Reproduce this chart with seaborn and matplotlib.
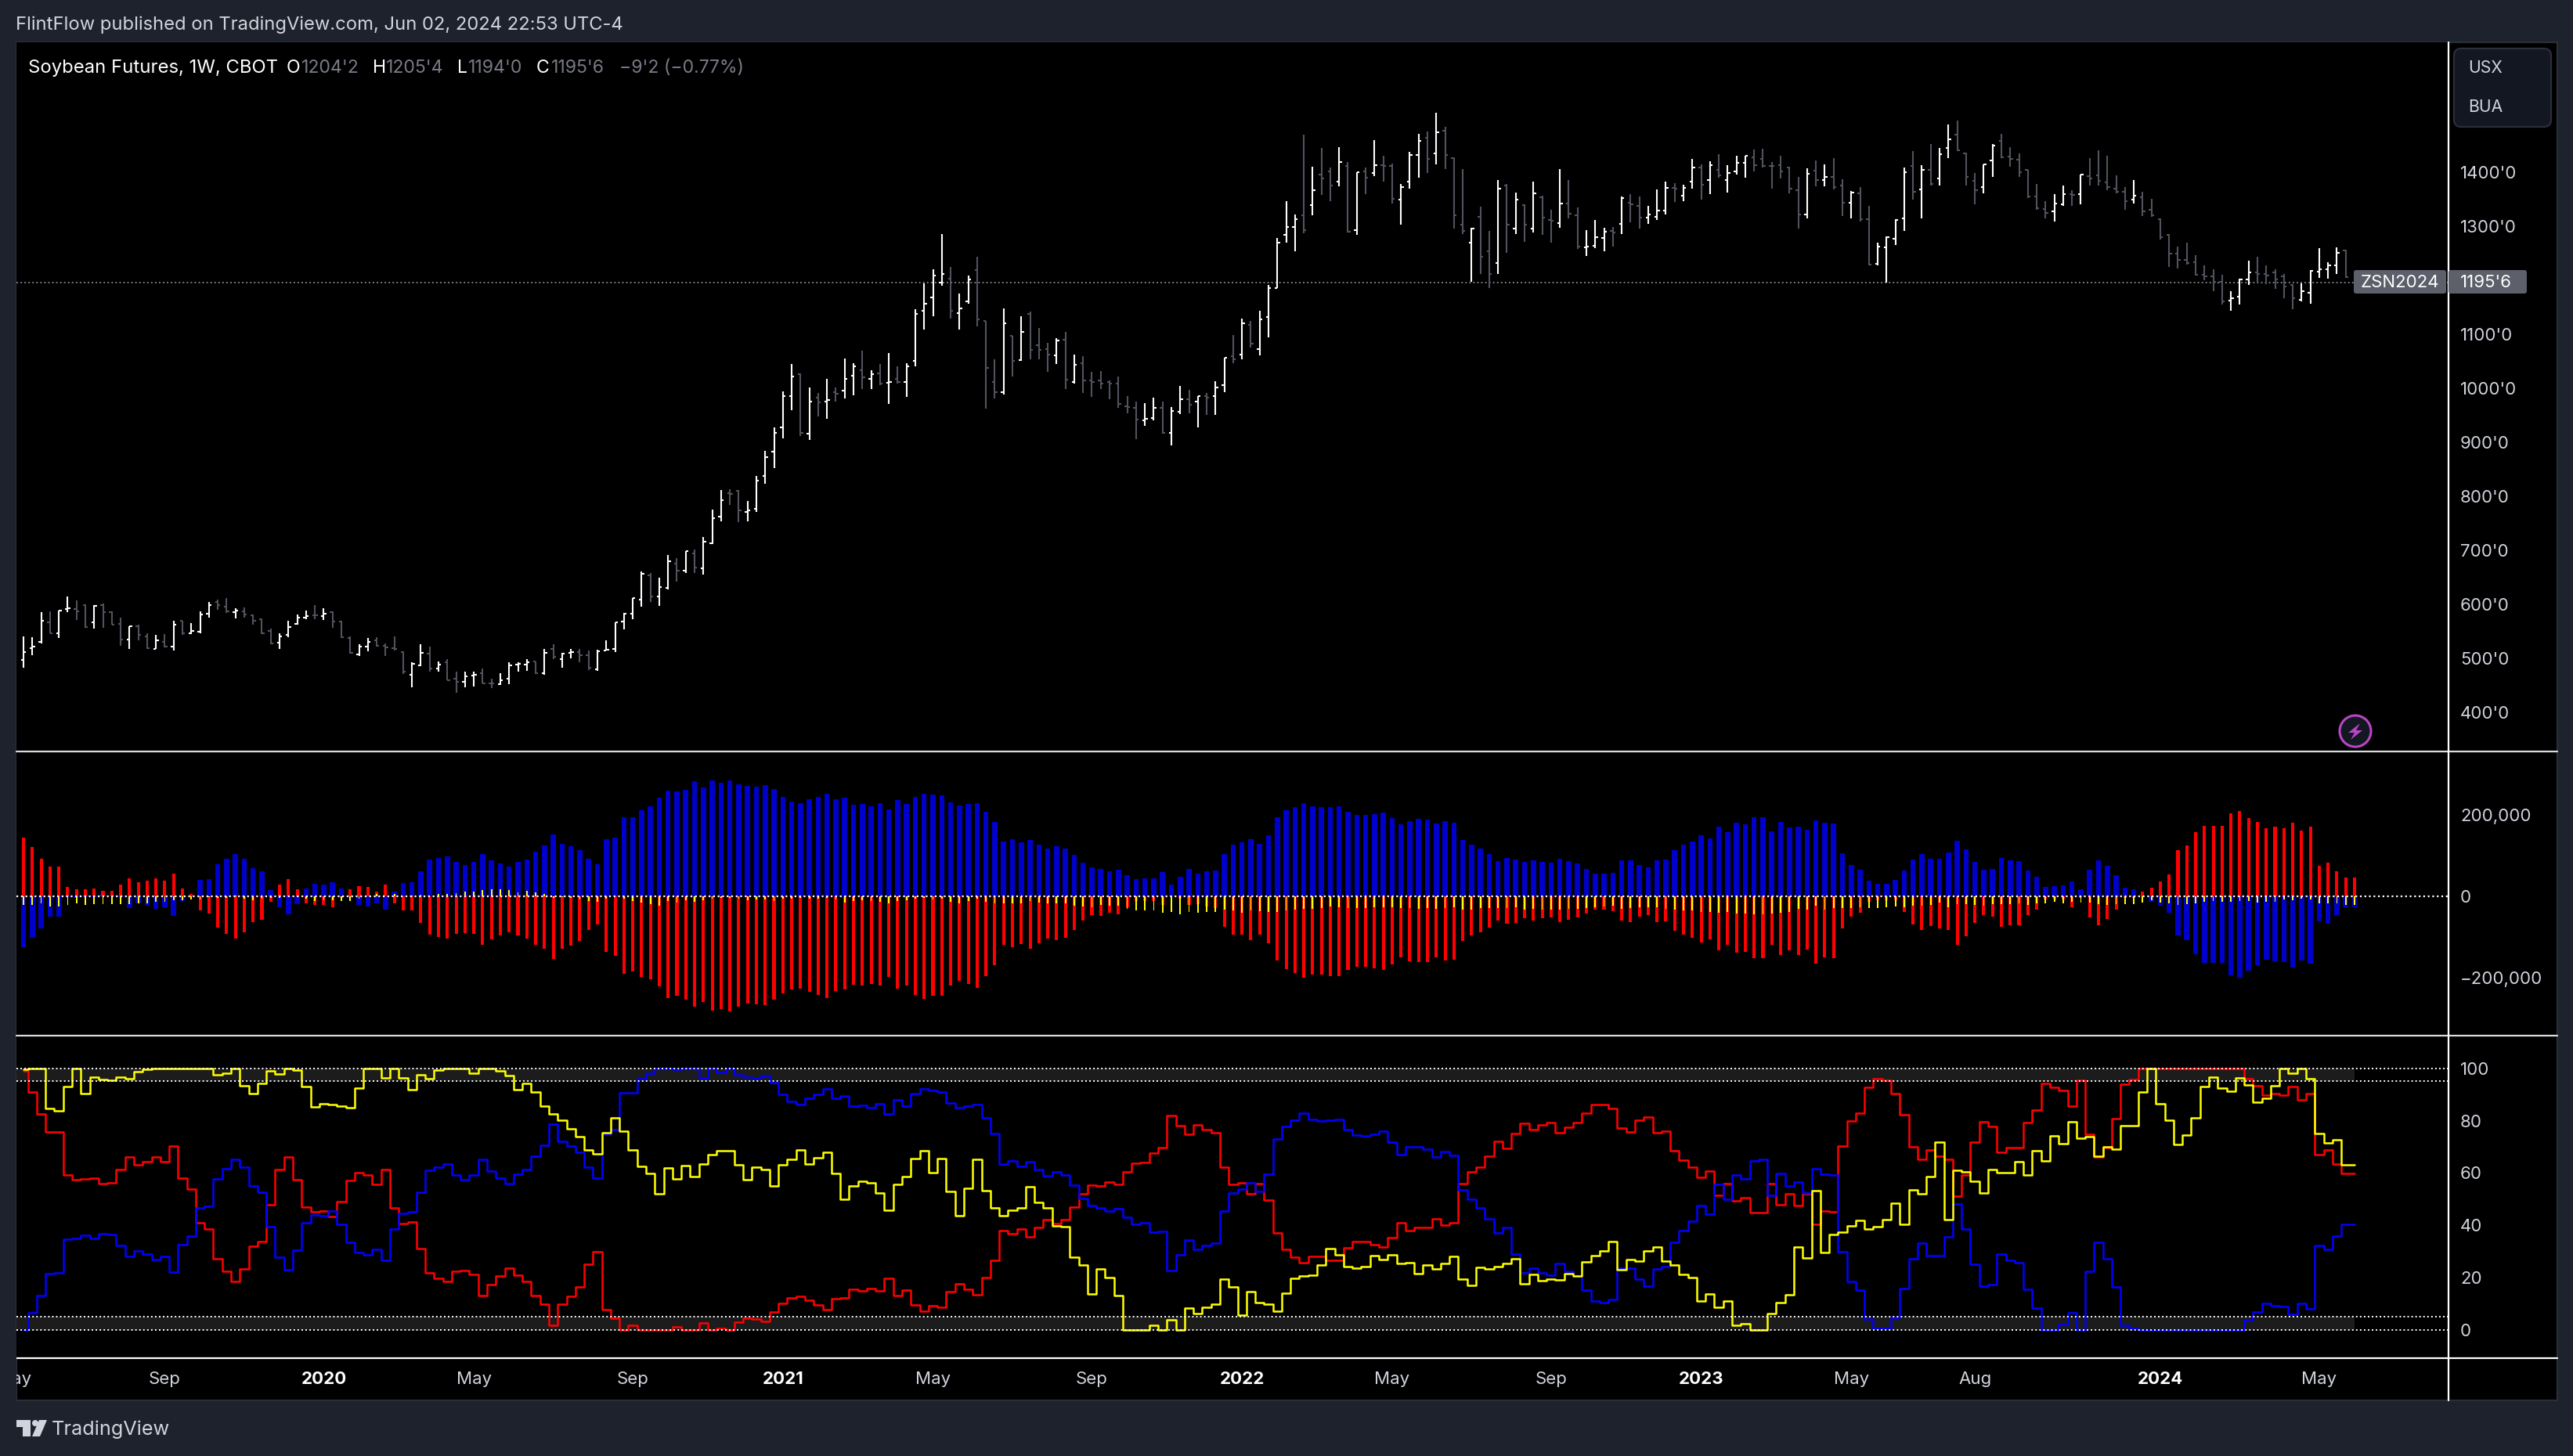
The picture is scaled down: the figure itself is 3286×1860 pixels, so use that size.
import numpy as np
import matplotlib
matplotlib.use('Agg')
import matplotlib.pyplot as plt
from matplotlib.patches import Rectangle, FancyBboxPatch, Circle, Polygon
from matplotlib.transforms import Affine2D
import seaborn as sns

# weekly bars, soybean futures
price_open = [
    497,519,530,567,546,592,592,599,567,598,585,564,535,560,540,518,531,522,569,547,549,582,604,596,586,587,579,572,550,529,
    543,564,575,579,578,585,568,538,507,521,533,523,519,511,470,487,509,481,492,462,457,468,472,454,452,463,488,489,494,472,
    517,498,510,511,506,480,515,517,568,583,609,654,614,631,676,662,694,667,713,762,806,810,771,777,837,883,927,985,1026,916,
    982,975,993,996,1023,1033,1017,1027,1010,1018,1012,1050,1144,1168,1196,1203,1139,1161,1219,1124,1012,993,1097,1052,1137,1079,1072,1061,1090,1012,
    1046,1015,1014,1011,1008,967,964,941,945,964,918,957,979,976,985,985,1006,1059,1063,1117,1072,1132,1186,1284,1299,1321,1339,1396,1401,1383,
    1412,1293,1401,1399,1413,1411,1349,1383,1432,1464,1435,1477,1426,1303,1270,1318,1253,1232,1376,1295,1339,1295,1354,1312,1306,1342,1321,1261,1264,1278,
    1292,1304,1344,1338,1316,1317,1329,1371,1357,1382,1409,1385,1405,1386,1402,1418,1428,1424,1412,1413,1409,1366,1322,1403,1385,1391,1375,1344,1361,1313,
    1231,1261,1277,1315,1412,1368,1404,1389,1445,1469,1435,1384,1373,1422,1458,1429,1423,1404,1355,1332,1328,1340,1360,1360,1393,1394,1381,1370,1364,1349,
    1354,1330,1313,1284,1249,1238,1233,1210,1207,1197,1163,1170,1202,1215,1212,1214,1207,1191,1164,1177,1216,1221,1228,1255]
price_high = [
    540,539,586,587,589,614,607,600,598,601,587,575,560,562,547,544,545,569,570,565,587,604,609,612,593,594,581,574,555,546,
    569,581,588,598,593,587,569,540,526,538,539,527,540,513,492,526,522,494,498,476,475,476,481,462,472,493,493,498,494,517,
    526,510,517,517,514,516,534,567,584,612,661,658,649,692,686,699,701,725,775,811,813,811,791,837,884,928,994,1045,1028,1002,
    992,1017,1002,1055,1047,1069,1034,1045,1065,1040,1046,1146,1194,1220,1286,1224,1175,1208,1243,1125,1053,1148,1097,1133,1142,1111,1084,1093,1104,1063,
    1060,1030,1032,1014,1022,986,975,973,983,976,965,1004,997,985,992,1013,1056,1098,1129,1124,1143,1192,1278,1346,1322,1470,1410,1445,1408,1446,
    1419,1400,1408,1460,1431,1416,1378,1438,1471,1476,1510,1484,1427,1406,1297,1336,1291,1386,1378,1362,1341,1383,1357,1330,1406,1385,1335,1293,1312,1297,
    1299,1355,1359,1355,1337,1368,1383,1379,1377,1424,1415,1420,1434,1413,1430,1430,1442,1443,1419,1431,1410,1391,1407,1422,1415,1426,1387,1365,1372,1337,
    1269,1281,1313,1408,1439,1413,1452,1445,1489,1496,1436,1398,1414,1452,1471,1446,1435,1405,1378,1347,1360,1375,1366,1396,1426,1440,1430,1394,1372,1385,
    1364,1351,1314,1285,1262,1270,1246,1228,1221,1210,1180,1203,1236,1244,1227,1220,1211,1193,1194,1219,1259,1234,1261,1257]
price_low = [
    482,506,528,546,538,586,571,557,555,557,562,523,518,534,518,517,520,515,544,545,547,575,590,584,574,576,562,545,526,518,
    539,563,573,573,571,556,537,508,505,513,521,504,515,471,447,485,476,475,459,436,447,448,453,445,450,452,475,477,471,469,
    499,483,500,492,478,477,514,512,554,573,596,605,597,628,642,658,658,655,712,754,784,752,754,771,823,852,907,959,912,904,
    948,943,975,981,987,999,998,1006,971,1008,984,1041,1108,1133,1190,1129,1108,1156,1115,963,981,989,1022,1050,1054,1054,1030,1045,999,1009,
    992,984,998,980,964,953,906,930,940,916,894,952,954,928,951,951,993,1047,1054,1075,1061,1094,1185,1270,1254,1287,1320,1358,1347,1374,
    1289,1284,1359,1393,1382,1342,1303,1370,1390,1399,1414,1406,1295,1286,1197,1211,1185,1211,1251,1286,1271,1289,1284,1269,1297,1315,1258,1245,1260,1254,
    1262,1286,1307,1295,1304,1312,1322,1345,1347,1369,1349,1359,1390,1363,1395,1390,1402,1408,1369,1389,1361,1296,1315,1374,1374,1368,1319,1315,1308,1228,
    1227,1196,1265,1291,1349,1315,1375,1376,1426,1439,1375,1341,1361,1391,1426,1410,1392,1352,1331,1315,1309,1338,1337,1340,1376,1376,1366,1361,1331,1342,
    1319,1318,1276,1225,1222,1229,1208,1200,1180,1155,1144,1155,1191,1196,1193,1184,1167,1146,1161,1157,1204,1203,1211,1204]
price_close = [
    512,521,570,547,588,593,587,558,597,585,563,535,559,544,519,534,522,563,546,550,581,599,599,587,588,581,569,547,528,540,
    558,576,578,579,583,568,539,510,521,531,523,520,517,475,490,510,481,489,460,456,467,469,454,454,459,487,490,493,473,510,
    503,509,512,506,482,513,516,566,583,611,657,614,632,679,663,699,668,716,760,793,805,774,774,829,872,917,985,1022,918,976,
    974,978,990,1017,1041,1021,1026,1009,1011,1011,1041,1137,1156,1209,1211,1144,1148,1202,1128,1038,993,1121,1050,1104,1071,1071,1063,1088,1016,1044,
    1014,1012,1008,1008,971,965,942,944,964,918,958,980,969,985,983,1002,1056,1054,1121,1083,1128,1185,1270,1299,1313,1293,1367,1388,1375,1419,
    1290,1400,1390,1413,1411,1351,1373,1432,1458,1425,1474,1432,1321,1291,1296,1243,1211,1370,1303,1349,1303,1361,1316,1310,1342,1323,1262,1262,1280,1290,
    1289,1352,1341,1316,1322,1329,1371,1369,1371,1409,1377,1413,1394,1398,1418,1430,1413,1412,1412,1401,1369,1322,1397,1385,1391,1373,1344,1362,1313,1229,
    1262,1279,1312,1400,1364,1404,1378,1434,1461,1441,1392,1367,1414,1449,1428,1424,1400,1355,1334,1324,1342,1360,1358,1396,1389,1384,1372,1364,1347,1356,
    1328,1320,1279,1250,1237,1232,1210,1207,1197,1161,1167,1202,1215,1212,1209,1202,1189,1167,1179,1217,1220,1228,1251,1206]
last_close = 1195.75

# net positions, thousands of contracts
net_blue = [
    -125,-102,-79,-50,-50,-2,-4,-1,-1,6,3,-1,-28,-17,-24,-31,-27,-48,-12,0,41,42,79,92,104,92,69,62,15,-27,
    -44,-19,19,31,29,35,19,-3,-21,-25,-17,-33,12,33,35,62,90,94,98,85,77,85,104,88,81,73,85,90,110,125,
    152,129,123,113,92,79,140,144,194,194,212,221,242,260,258,262,283,267,285,279,285,275,271,269,273,263,244,233,229,238,
    244,252,238,242,225,226,222,229,213,236,226,245,252,250,248,231,223,227,229,207,183,134,140,133,138,126,117,123,117,102,
    83,71,67,62,65,52,42,44,44,60,29,48,67,56,62,63,104,127,133,140,129,150,194,212,219,229,221,219,219,221,
    207,200,200,202,206,192,177,185,190,188,179,185,181,138,126,117,103,87,94,90,85,88,85,83,92,87,81,67,56,56,
    58,88,88,77,71,88,90,113,127,135,150,142,171,158,181,177,194,194,160,183,169,172,163,187,181,179,106,77,65,38,
    31,31,40,63,90,104,92,92,108,137,115,85,65,67,94,88,87,63,48,23,25,27,37,17,65,88,75,52,21,17,
    0,-13,-23,-40,-96,-108,-142,-163,-163,-163,-194,-200,-183,-169,-156,-160,-162,-175,-158,-165,-62,-67,-46,-27,-27]
net_red = [
    144,121,92,73,73,23,17,17,19,13,13,29,44,35,38,44,38,56,19,6,-35,-43,-77,-92,-104,-88,-63,-58,-13,29,
    42,17,-17,-21,-21,-26,-3,17,25,23,12,29,-17,-35,-35,-65,-94,-100,-104,-92,-90,-92,-119,-106,-96,-88,-96,-104,-119,-129,
    -154,-129,-121,-110,-83,-69,-137,-146,-190,-185,-198,-204,-221,-250,-244,-254,-271,-260,-281,-277,-283,-271,-263,-265,-267,-254,-238,-229,-227,-235,
    -242,-250,-233,-229,-217,-219,-215,-219,-198,-227,-219,-242,-252,-244,-244,-219,-208,-215,-225,-196,-169,-119,-125,-117,-129,-115,-104,-108,-102,-83,
    -60,-46,-48,-40,-44,-26,-12,-12,-11,-21,0,-6,-22,-19,-25,-29,-75,-94,-94,-108,-94,-115,-158,-179,-188,-200,-192,-192,-196,-196,
    -181,-173,-173,-177,-181,-167,-150,-160,-162,-162,-150,-158,-156,-110,-96,-88,-77,-60,-67,-65,-54,-60,-54,-52,-63,-58,-52,-42,-33,-33,
    -37,-60,-63,-50,-46,-63,-62,-85,-94,-102,-113,-106,-133,-119,-138,-137,-152,-152,-119,-144,-133,-144,-131,-165,-150,-152,-79,-50,-40,-13,
    -10,-10,-10,-38,-69,-83,-73,-79,-83,-119,-98,-65,-46,-50,-75,-71,-71,-46,-33,-8,-7,-7,-27,-3,-52,-71,-56,-33,-3,-3,
    12,21,37,54,113,125,158,173,173,173,204,210,192,183,167,171,167,181,162,171,75,83,62,46,46]
net_yellow = [
    -21,-21,-17,-25,-25,-21,-17,-21,-19,-19,-19,-19,-19,-17,-17,-13,-13,-10,-10,-8,-8,-2,-4,-4,2,-6,-10,-6,-4,-4,
    0,-2,-6,-12,-10,-10,-12,-12,-6,0,6,0,6,0,2,4,0,6,6,8,12,12,15,17,17,15,10,13,10,6,
    -3,-2,-4,-8,-12,-13,-6,-2,-6,-12,-15,-19,-23,-12,-15,-10,-13,-10,-6,-4,-3,-6,-10,-8,-8,-12,-6,-6,-4,-6,
    -6,-4,-8,-15,-12,-10,-12,-13,-17,-12,-10,-6,-4,-8,-6,-13,-17,-12,-6,-13,-17,-17,-17,-17,-12,-15,-17,-17,-17,-23,
    -25,-27,-21,-23,-23,-31,-35,-35,-35,-40,-38,-44,-38,-40,-38,-38,-33,-35,-40,-35,-37,-38,-38,-35,-33,-31,-31,-29,-25,-27,
    -29,-29,-29,-27,-27,-27,-29,-29,-31,-29,-31,-29,-27,-33,-33,-29,-29,-29,-29,-27,-33,-31,-33,-33,-33,-31,-31,-29,-27,-25,
    -23,-31,-29,-27,-27,-27,-31,-33,-35,-35,-38,-38,-40,-38,-42,-42,-44,-44,-42,-40,-38,-31,-33,-23,-33,-29,-29,-29,-27,-29,
    -29,-27,-25,-27,-23,-23,-21,-15,-27,-19,-19,-21,-23,-19,-19,-19,-17,-21,-17,-17,-13,-17,-13,-15,-15,-19,-21,-19,-19,-19,
    -15,-10,-15,-17,-21,-19,-17,-13,-12,-13,-13,-12,-12,-15,-13,-13,-8,-10,-6,-8,-17,-17,-17,-21,-21]

# 0-100 index of the same three groups
index_red = [
    99,91,82.5,75.7,75.7,59.3,57.4,57.7,58,56,56.3,61.4,66.2,63,64.3,66.2,64.3,70.4,58,53.9,41,38.6,27.3,22.5,18.4,23.3,32,33.8,47.8,61.3,
    66.2,57.5,46.9,45.2,45.5,43.4,49,57,60.2,59.3,55.7,61.3,46.6,40.8,41.2,31.1,21.9,19.8,18.4,22.5,22.8,21.3,13.1,17.3,20.7,23.7,21,18.4,13.2,9.9,
    1.8,9.9,12.9,16.5,25.2,30,7.7,4.5,0,1.9,0,0,0,0,1.2,0,0,2.8,0,0.5,0,2.9,4.5,4.2,3.2,6.8,10.2,12.2,12.8,11.3,
    9.6,7.7,12,12.3,15.5,14.9,15.9,14.9,19.8,13.1,15.1,9.6,7.2,9.3,8.7,14.7,17.7,15.6,13.4,20.1,26.6,38,36.8,38.7,35.6,39.2,42.1,40.6,42.3,46.9,
    52,55.4,55,56.6,55.7,60.4,63.8,64.1,67.7,69.8,82.1,78.1,74.8,78.5,76.7,75.4,62.1,55.7,56.1,52.1,56,49.7,37.1,30.8,27.8,25.7,28.1,28.1,26.6,26.6,
    31.3,33.9,33.9,32.7,31.6,35.3,41,37.9,39.3,39.3,42.6,40.1,40.9,56,60.4,62.3,66.5,72.2,69.4,75,79,76.6,78.4,79.4,75.4,77.5,79.4,83,86.3,86.3,
    84.7,77.1,75.7,80.1,81.4,75.4,76.1,68.6,65,62.3,58.4,60.8,51.5,56,49.5,50.7,44.8,44.8,56,47.8,51.9,47.6,52.1,40.4,45.6,45.2,70.4,79.9,82.8,92.6,
    95.9,95.3,90.4,82.4,70.1,65.3,68.7,66.4,65.1,51,59.3,71.9,79.7,77.8,67.9,69.7,69.7,79.4,84.1,94.2,92.6,91.6,85.6,95.3,74.8,66.2,69.6,80.8,93.9,95.6,
    100,100,100,100,100,100,100,100,100,100,100,100,96.1,93.4,89.8,90.4,89.8,93.1,88,90.4,66.9,68.9,63.5,59.8,59.8]
index_blue = [
    0,6.6,13.2,21.6,21.9,34.6,35,36.3,34.9,36.9,36.6,32.4,28.1,30.3,29,27,28.1,22.1,32.6,36,46.6,47.2,57.7,61.6,65.1,62.1,55.1,52.6,39.6,27.8,
    23,30.5,40.9,43.9,43.6,45.6,40.4,33.6,29.7,28.6,30.8,26.5,38.6,44.6,45.2,52.6,61,62.2,63.5,59.3,57.4,59.3,65.3,60.8,58.1,56,59.6,61.4,66.4,70.7,
    78.8,72.2,70.4,68,62.1,58,74.7,76.7,90.7,90.7,95.9,98.1,100,100,99.5,100,100,96.4,100,98.5,100,97.6,96.7,96.4,97.3,94.5,90.1,87.5,86.2,88.7,
    90.1,92,88.6,89.5,85.6,85.8,85.1,86.6,82.7,88,85.6,90.3,92.2,91.6,91,86.8,85.1,85.7,86.3,81,75,63.4,64.7,62.5,64.3,61.4,59,60.5,59.1,55.4,
    50.3,47.6,46.7,45.5,46.4,43.2,40.5,41,37.4,37.7,22.7,28.7,34.4,30.9,32.3,33.3,45.6,52.4,53.8,56.3,52.9,59.6,73,77.8,80.3,83,80.5,79.9,80.2,80.6,
    76.7,74.5,74.1,74.8,76.1,71.8,67,69.9,70.1,69,66.2,68.2,66.8,53.6,50,46.7,42.5,37.1,39.3,28.9,21.9,23.7,21.9,20.9,25.5,22.5,20.6,15.3,11.1,10.4,
    11.6,23.7,23.7,19.3,16.7,23.4,24.3,33.5,37.9,41.5,47.6,44.3,55.7,50,59.3,57.7,64.7,65.2,51.5,59.8,55.1,56.5,52.4,61.6,59.6,59.1,29.9,18.6,15.1,4.1,
    0.6,0.6,4.7,15.9,27.3,33.3,28.4,28.4,35.7,48.2,38.6,25.2,16.7,17.3,29.1,26.6,25.8,15.5,8.5,0,0,2.1,6.6,0,22.5,33.6,27.3,16.5,1.9,0.6,
    0,0,0,0,0,0,0,0,0,0,0,0,3.9,6.8,10.2,9.3,9.1,5.9,10,8,32.3,30.8,36,40.4,40.4]
index_yellow = [
    99.5,99.9,100,84.7,83.8,93.1,100,90.4,96.7,95.6,95.5,96.7,96.1,98.6,99.5,100,100,100,100,100,100,100,97.4,98.2,100,93.3,90.4,94.3,98.9,97.9,
    100,99.4,93.1,85.3,86.6,86.2,85.6,84.9,92.3,100,100,96.4,100,96.4,91.9,97.6,96.1,99.4,99.8,100,100,98.1,100,100,98.9,97.1,91.9,94.3,91,85.7,
    82.7,80.2,77,74,68.9,67.4,75.5,81.1,76.1,68.9,62.6,59.7,52.1,61.9,57.7,62.9,58.7,63.5,67,68.6,68.6,63.2,57.4,62.3,61.4,55,63.2,65.3,68.9,63.4,
    65.9,68,59.9,50,55,56.9,56.1,52.4,45.8,55.5,58.5,65.6,68.4,60.1,65.6,53,43.8,54.2,65.1,53.3,46.7,43.8,45.9,46.6,54.8,48.9,46.6,39.8,39.5,27.8,
    24.8,13.7,23.4,20.1,13.2,0,0,0,1.9,0,3.9,0,8.5,6.2,8.8,9.9,19.5,16.5,5.7,14.7,10.5,9.9,7.2,14.1,19.8,20.6,21,24.8,31.1,28.8,
    24.3,23.6,24.3,28.5,26.9,28.8,25.4,25.8,21.6,24.8,23.3,25.5,28.1,19.5,17,24,23.2,24.2,25.5,27.3,17.6,21.3,18.9,19.5,19.1,21.6,20.6,26.1,28.5,30.3,
    33.9,23,27,26.3,30.1,31.8,26.3,24.8,21.3,20.1,11,13.8,8.7,11.1,1.9,2.5,0,0,6.2,10.3,13.5,31.8,27.6,53.3,29.6,36.6,37.4,39.8,42,38.6,
    39.6,42.3,48.6,40.4,53.6,51.9,58.7,71.9,42.3,61,60.5,56.9,52.4,61.3,60.2,60.2,64.3,59.1,68.6,64.7,74.2,71.2,79.7,73.4,74,66.4,70.1,69.1,78.1,78.1,
    91,100,86.6,80.3,70.9,74.5,81.1,93.1,96.7,92.3,91.2,96.4,93.7,87.1,88.7,93.4,100,98.1,100,95.9,75.2,71.5,72.7,63.2,63.2]

price_ticks = [400,500,600,700,800,900,1000,1100,1300,1400]
net_ticks = [-200,0,200]
net_tick_labels = ['\u2212200,000','0','200,000']
index_ticks = [0,20,40,60,80,100]
time_tick_pos = [16,34,51,69,86,103,121,138,155,173,190,207,221,242,260]
time_tick_labels = ['Sep','2020','May','Sep','2021','May','Sep','2022','May','Sep','2023','May','Aug','2024','May']

BG = '#1e222d'
TXT = '#d1d4dc'
GRAY = '#787b86'
BAR_DOWN = '#50535e'

sns.set_theme(style='dark', rc={'axes.facecolor': 'black', 'figure.facecolor': BG})
plt.rcParams['font.family'] = ['Inter', 'DejaVu Sans']

W, H = 3286, 1860
fig = plt.figure(figsize=(W / 200, H / 200), dpi=200)
px = Affine2D().scale(1 / W, -1 / H).translate(0, 1) + fig.transFigure


def pane(top, bottom, left=21, right=3127):
    ax = fig.add_axes([left / W, 1 - bottom / H, (right - left) / W, (bottom - top) / H])
    ax.set_facecolor('black')
    for s in ax.spines.values():
        s.set_visible(False)
    return ax


def chrome_text(x, y, s, color=TXT, size=8, **kw):
    fig.text(x, y, s, transform=px, color=color, fontsize=size, va='center', **kw)


# black chart area behind the panes
fig.add_artist(Rectangle((21, 54), 3245, 1735, transform=px, facecolor='black', edgecolor='#2a2e39', lw=0.8, zorder=-1))

ax1 = pane(54, 960)
ax2 = pane(960, 1323)
ax3 = pane(1323, 1735)

# price bars
o = np.array(price_open, dtype=float)
h = np.array(price_high, dtype=float)
l = np.array(price_low, dtype=float)
c = np.array(price_close, dtype=float)
x_price = np.arange(len(c))
up = c > o
for mask, col in [(~up, BAR_DOWN), (up, 'white')]:
    ax1.vlines(x_price[mask], l[mask], h[mask], color=col, lw=0.75)
    ax1.hlines(o[mask], x_price[mask] - 0.3, x_price[mask], color=col, lw=0.75)
    ax1.hlines(c[mask], x_price[mask], x_price[mask] + 0.3, color=col, lw=0.75)
ax1.axhline(last_close, color=GRAY, lw=0.7, ls=(0, (1, 1.6)), zorder=0)
ax1.set_ylim(327.5, 1640.6)
ax1.set_yticks(price_ticks)
ax1.set_yticklabels([f"{t}'0" for t in price_ticks])

# net positions
x_net = np.arange(len(net_blue))
for vals, col, wd in [(net_blue, '#0000cc', 0.58), (net_red, '#ff0000', 0.36), (net_yellow, '#ffff00', 0.16)]:
    sns.barplot(x=x_net, y=np.array(vals) * 1.0, native_scale=True, orient='x', width=wd, color=col,
                saturation=1, linewidth=0, errorbar=None, ax=ax2)
ax2.axhline(0, color='white', lw=0.8, ls=(0, (1, 1.6)), zorder=5)
ax2.set_ylim(-342.3, 355.8)
ax2.set_yticks(net_ticks)
ax2.set_yticklabels(net_tick_labels)

# index pane
x_idx = np.arange(len(index_red))
for lo, hi in [(95, 100), (0, 5)]:
    ax3.fill_between([x_idx[0] - 2, x_idx[-1]], lo, hi, color='#1c1c1c', lw=0, zorder=0)
for vals, col in [(index_red, '#ff0000'), (index_blue, '#0000ff'), (index_yellow, '#ffff00')]:
    sns.lineplot(x=x_idx, y=vals, color=col, linewidth=0.9, drawstyle='steps-mid', estimator=None, ax=ax3)
for lev in [100, 95, 5, 0]:
    ax3.axhline(lev, color='white', lw=0.7, ls=(0, (1, 1.6)), zorder=5)
ax3.set_ylim(-10.8, 112.5)
ax3.set_yticks(index_ticks)
ax3.set_xticks(time_tick_pos)
ax3.set_xticklabels(time_tick_labels)
for lab, txt in zip(ax3.get_xticklabels(), time_tick_labels):
    if txt.isdigit():
        lab.set_fontweight('bold')
        lab.set_color('white')
    else:
        lab.set_color(TXT)
ax3.tick_params(axis='x', length=0, pad=6.3, labelsize=8)

for ax in (ax1, ax2, ax3):
    ax.set_xlim(-0.8, 274.64)
    ax.set_xlabel('')
    ax.set_ylabel('')
    ax.grid(False)
    ax.yaxis.tick_right()
    ax.tick_params(axis='y', length=0, pad=5.4, labelsize=8, labelcolor=TXT)
    if ax is not ax3:
        ax.set_xticks([])

# first May label runs off the left edge, the margin patch clips it
fig.text(18, 1762, 'May', transform=px, color=TXT, fontsize=8, ha='center', va='center')
fig.add_artist(Rectangle((0, 1700), 21, 120, transform=px, facecolor=BG, edgecolor='none', zorder=5))

# pane separators and price scale line
for y, col in [(960, '#d8dbe2'), (1323, '#d8dbe2'), (1735, 'white')]:
    fig.add_artist(plt.Line2D([21, 3266], [y, y], transform=px, color=col, lw=0.8, zorder=4))
fig.add_artist(plt.Line2D([3127, 3127], [54, 1789], transform=px, color='white', lw=0.8, zorder=4))

# price labels
fig.add_artist(FancyBboxPatch((3006, 345), 118, 30, boxstyle='round,pad=0,rounding_size=3', transform=px,
                              facecolor='#5d606b', edgecolor='none', zorder=6))
fig.add_artist(FancyBboxPatch((3127, 345), 100, 30, boxstyle='round,pad=0,rounding_size=3', transform=px,
                              facecolor='#5d606b', edgecolor='none', zorder=6))
fig.text(3065, 361, 'ZSN2024', transform=px, color='white', fontsize=8, ha='center', va='center', zorder=7)
fig.text(3142, 361, "1195'6", transform=px, color='white', fontsize=8, ha='left', va='center', zorder=7)

# currency and unit box
fig.add_artist(FancyBboxPatch((3134, 62), 124, 100, boxstyle='round,pad=0,rounding_size=9', transform=px,
                              facecolor='#131722', edgecolor='#2a2e39', lw=0.8, zorder=6))
fig.text(3152, 87, 'USX', transform=px, color=TXT, fontsize=7.6, va='center', zorder=7)
fig.text(3152, 137, 'BUA', transform=px, color=TXT, fontsize=7.6, va='center', zorder=7)

# bolt marker
fig.add_artist(Circle((3008, 934), 20, transform=px, facecolor='#131722', edgecolor='#ba45c6', lw=1.1, zorder=6))
fig.add_artist(Polygon([(3014, 924), (2999, 936), (3007, 936), (3002, 945), (3017, 933), (3009, 933)],
                       closed=True, transform=px, facecolor='#ba45c6', edgecolor='none', zorder=7))

# header lines
chrome_text(20, 32, 'FlintFlow published on TradingView.com, Jun 02, 2024 22:53 UTC-4', size=8.55)
chrome_text(36, 87, 'Soybean Futures, 1W, CBOT', color='white', size=8.6)
for x, s, col in [(366, 'O', 'white'), (385, "1204'2", GRAY), (476, 'H', 'white'), (493, "1205'4", GRAY),
                  (584, 'L', 'white'), (598, "1194'0", GRAY), (685, 'C', 'white'), (704, "1195'6", GRAY),
                  (791, "\u22129'2 (\u22120.77%)", GRAY)]:
    chrome_text(x, 87, s, color=col, size=8.3)

# TradingView mark
fig.add_artist(Polygon([(21, 1814), (39, 1814), (39, 1835), (29, 1835), (29, 1823), (21, 1823)], closed=True,
                       transform=px, facecolor=TXT, edgecolor='none'))
fig.add_artist(Circle((45, 1818), 4, transform=px, facecolor=TXT, edgecolor='none'))
fig.add_artist(Polygon([(50, 1814), (60, 1814), (51, 1835), (41, 1835)], closed=True, transform=px,
                       facecolor=TXT, edgecolor='none'))
chrome_text(66, 1826, 'TradingView', size=9.1)

fig.savefig('out.png', dpi=200, facecolor=BG)
